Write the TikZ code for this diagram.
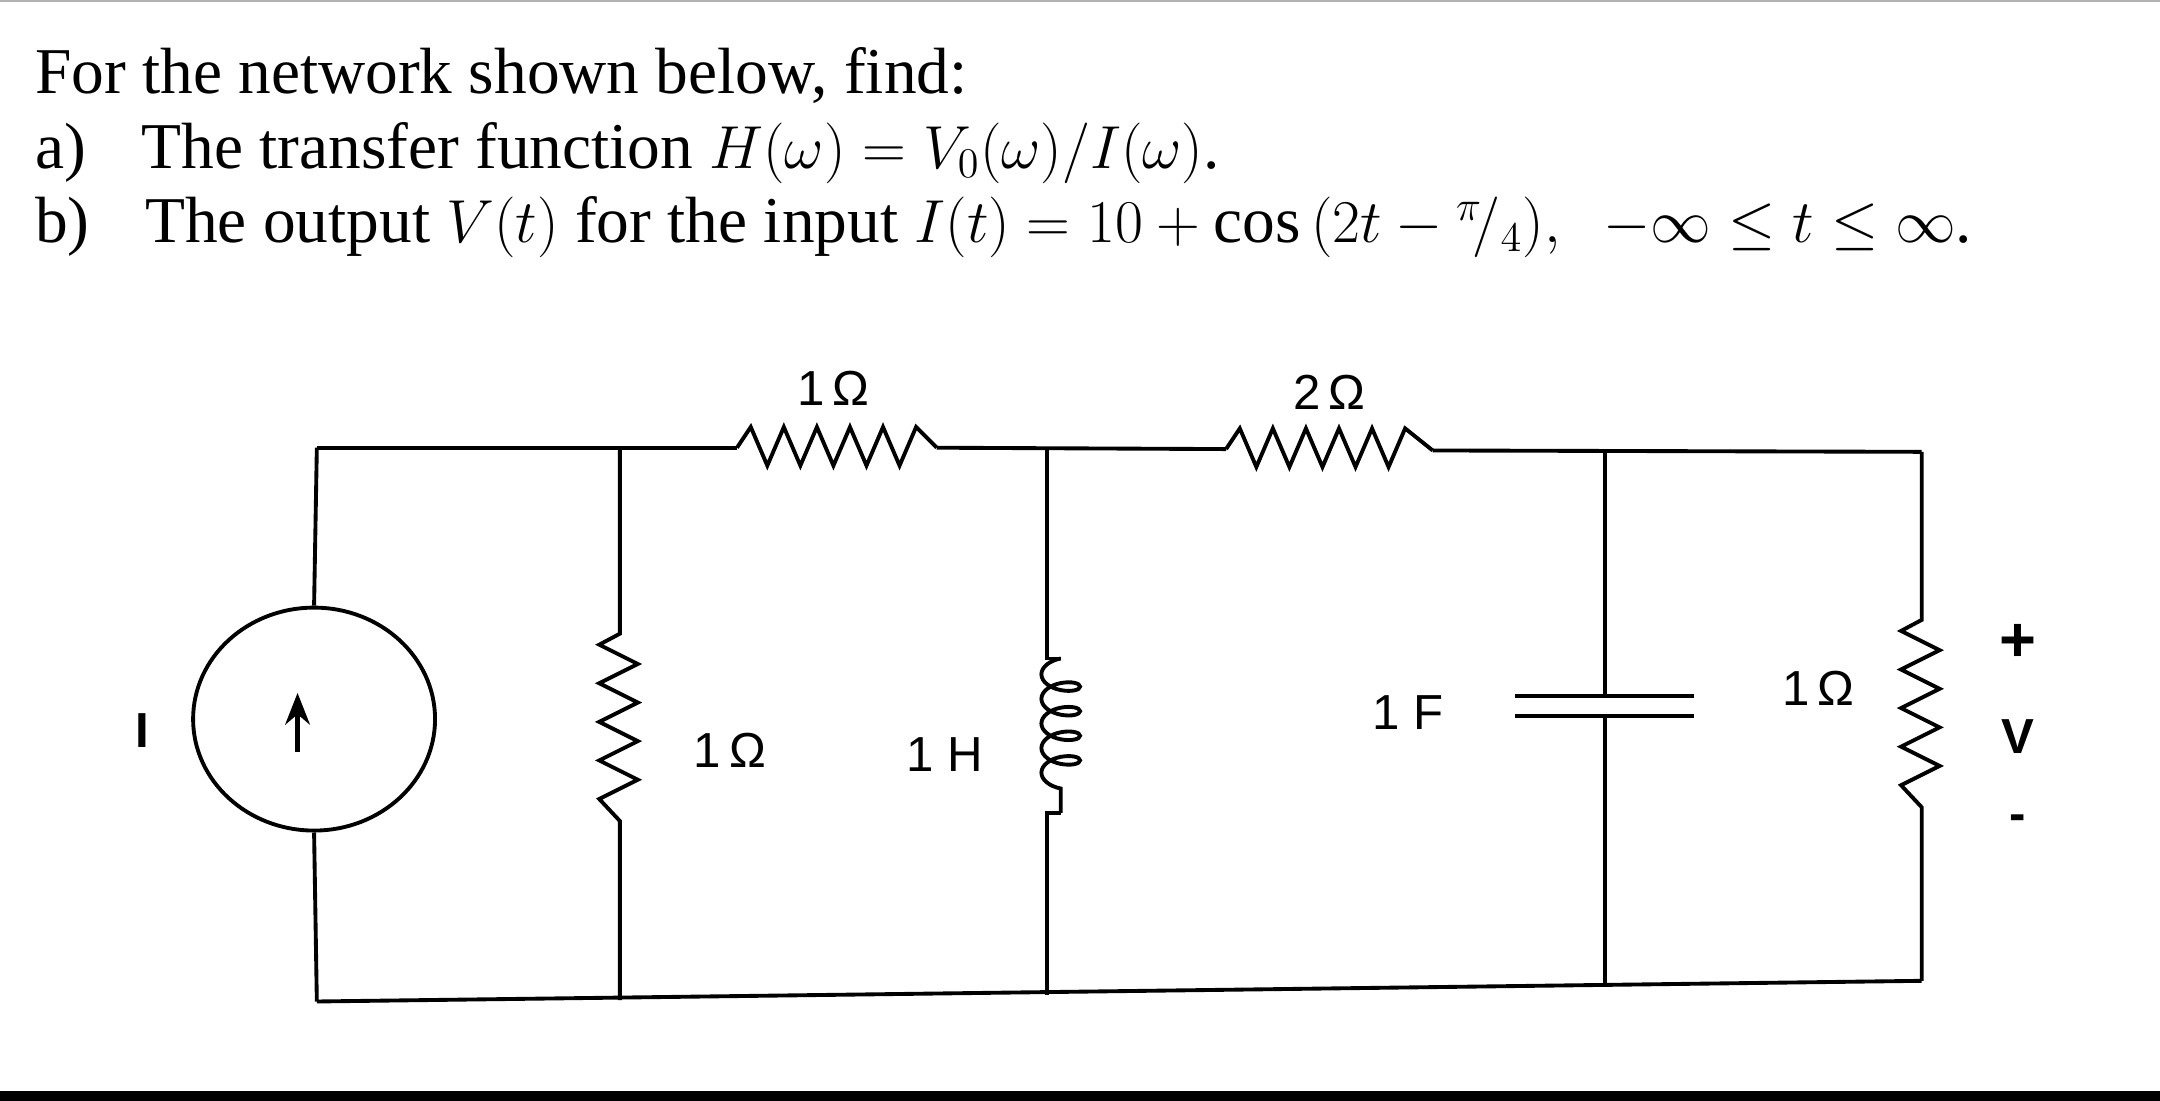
\documentclass[tikz,border=0pt]{standalone}
\usepackage{fontspec}
\setmainfont{Liberation Serif}
\newfontfamily\lab{Liberation Sans}
\usetikzlibrary{decorations.pathmorphing,shapes.geometric,arrows.meta}
\begin{document}
\begin{tikzpicture}[x=0.01378cm,y=-0.01378cm,
  wire/.style={line width=1.1pt},
  lbl/.style={font=\lab\fontsize{14}{16}\selectfont},
  txt/.style={anchor=base west,inner sep=0,font=\fontsize{18.6}{22}\selectfont}]
\useasboundingbox (0,0) rectangle (1568,799);
\fill[black] (0,792) rectangle (1568,799);
\draw[gray!60,line width=0.6pt] (0,1) -- (1568,1);
\node[txt] (t1) at (25,68) {For the network shown below, find:};
\node[txt] (t2) at (25,122) {a)\hspace{0.6em} The transfer function $H(\omega)=V_0(\omega)/I(\omega)$.};
\node[txt] (t3) at (25,176) {b)\hspace{0.6em} The output $V(t)$ for the input $I(t)=10+\cos\,(2t-{}^{\pi}\!/_{4}),\ \ -\infty\le t\le\infty$.};
% coordinates
\coordinate (TL) at (230,325); \coordinate (TR) at (1395,328);
\coordinate (BL) at (230,727); \coordinate (BR) at (1395,712);
\coordinate (a) at (450,326); \coordinate (ab) at (450,726);
\coordinate (b) at (760,326); \coordinate (bb) at (760,722);
\coordinate (c) at (1165,327); \coordinate (cb) at (1165,716);
% top wire
\draw[wire] (TL) -- (535,325);
\draw[wire] (535,325) -- (545,310) -- (557,338) -- (569,310) -- (581,338) -- (593,310) -- (605,338) -- (617,310) -- (629,338) -- (641,310) -- (653,338) -- (665,310) -- (680,325);
\draw[wire] (680,325) -- (890,326);
\draw[wire] (890,326) -- (900,311) -- (912,339) -- (924,311) -- (936,339) -- (948,311) -- (960,339) -- (972,311) -- (984,339) -- (996,311) -- (1008,339) -- (1020,311) -- (1040,327);
\draw[wire] (1040,327) -- (TR);
% bottom wire
\draw[wire] (BL) -- (BR);
% source
\node[draw,ellipse,line width=1.1pt,minimum width=2.42cm,minimum height=2.23cm,inner sep=0] (src) at (228,522) {};
\draw[wire] (TL) -- (src.north); \draw[wire] (src.south) -- (BL);
\draw[line width=1.4pt,-{Stealth[length=9pt,width=7pt]}] (216,546) -- (216,503);
\node[lbl,font=\lab\bfseries\fontsize{14}{16}\selectfont] (I) at (103,530) {I};
% left shunt resistor
\draw[wire] (a) -- (450,460) -- (435,468) -- (463,482) -- (435,496) -- (463,510) -- (435,524) -- (463,538) -- (435,552) -- (463,566) -- (435,580) -- (450,596) -- (ab);
\node[lbl] (r1) at (530,545) {1\,Ω};
\node[lbl] (r0) at (605,282) {1\,Ω};
\node[lbl] (r2) at (965,285) {2\,Ω};
% inductor
\draw[wire] (b) -- (760,478) -- (770,478);
\draw[wire,decorate,decoration={coil,aspect=0.5,amplitude=5.5pt,segment length=7pt,mirror}] (770,478) -- (770,590);
\draw[wire] (770,590) -- (760,590) -- (bb);
\node[lbl] (L) at (686,548) {1 H};
% capacitor
\draw[wire] (c) -- (1165,505); \draw[wire] (1165,520) -- (cb);
\draw[wire] (1100,505) -- (1230,505); \draw[wire] (1100,520) -- (1230,520);
\node[lbl] (C) at (1022,517) {1 F};
% right resistor
\draw[wire] (TR) -- (1395,450) -- (1380,458) -- (1408,472) -- (1380,486) -- (1408,500) -- (1380,514) -- (1408,528) -- (1380,542) -- (1408,556) -- (1380,570) -- (1395,586) -- (BR);
\node[lbl] (r3) at (1320,500) {1\,Ω};
\node[lbl,font=\lab\bfseries\fontsize{18}{20}\selectfont] (p) at (1465,467) {+};
\node[lbl,font=\lab\bfseries\fontsize{14}{16}\selectfont] (V) at (1465,535) {V};
\node[lbl,font=\lab\bfseries\fontsize{14}{16}\selectfont] (m) at (1465,597) {-};
\end{tikzpicture}
\end{document}
